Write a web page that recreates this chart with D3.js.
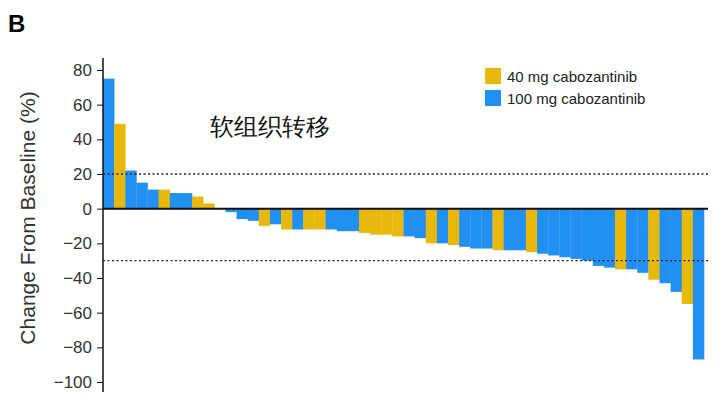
<!DOCTYPE html><html><head><meta charset="utf-8">
<script src="https://cdn.jsdelivr.net/npm/d3@7"></script>
<style>body{margin:0;background:#fff}text{font-family:"Liberation Sans",Arial,sans-serif}</style></head><body>
<svg id="c" width="720" height="402"></svg>
<script>
const values=[75,49,22,15,11,11,9,9,7,3,0.4,-2,-6,-7,-10,-9,-12,-12,-12,-12,-12,-13,-13,-14,-15,-15,-16,-16,-17,-20,-20,-21,-22,-23,-23,-24,-24,-24,-25,-26,-27,-28,-29,-30,-33,-34,-35,-35,-37,-41,-43,-48,-55,-87];
const groupCodes="BYBBBYBBYY"+"BBBB"+"YBYBYY"+"BBB"+"YYYY"+"BB"+"YBY"+"BBB"+"Y"+"BB"+"Y"+"BBBBBBB"+"Y"+"BB"+"Y"+"BB"+"Y"+"B";
const series=["40 mg cabozantinib","100 mg cabozantinib"];
const groups=groupCodes.split("").map(c=>c==="Y"?series[0]:series[1]);
const colors=["#e8b80c","#2190f0"];
const yTicks=[80,60,40,20,0,-20,-40,-60,-80,-100];
const refLines=[20,-30];
const svg=d3.select("#c");
const x=d3.scaleBand().domain(d3.range(values.length)).range([103,704]).padding(0);
const y=d3.scaleLinear().domain([-100,80]).range([382,70]);
const col=d3.scaleOrdinal(series,colors);
svg.append("text").attr("x",8).attr("y",32).attr("font-size",24).attr("font-weight","bold").text("B");
svg.selectAll("rect.b").data(values).join("rect").attr("x",(d,i)=>x(i)).attr("width",x.bandwidth()+0.3)
 .attr("y",d=>y(Math.max(0,d))).attr("height",d=>Math.abs(y(d)-y(0))).attr("fill",(d,i)=>col(groups[i]));
svg.selectAll("line.r").data(refLines).join("line").attr("x1",103).attr("x2",708).attr("y1",d=>y(d)).attr("y2",d=>y(d))
 .attr("stroke","#222").attr("stroke-width",1.3).attr("stroke-dasharray","2,2.5");
svg.append("line").attr("x1",103).attr("x2",708).attr("y1",y(0)).attr("y2",y(0)).attr("stroke","#111").attr("stroke-width",2);
const ax=svg.append("g").attr("transform","translate(103,0)").call(d3.axisLeft(y).tickValues(yTicks).tickSize(6).tickPadding(5));
ax.select(".domain").attr("d","M0,58V392").attr("stroke","#111").attr("stroke-width",1.5);
ax.selectAll(".tick line").attr("stroke","#111");
ax.selectAll("text").attr("font-size",17).attr("fill","#333").attr("font-family","'Liberation Sans',Arial");
svg.append("text").attr("transform","translate(35,218) rotate(-90)").attr("text-anchor","middle").attr("font-size",21).attr("fill","#333").text("Change From Baseline (%)");
svg.append("text").attr("x",210).attr("y",135).attr("font-size",24).attr("font-family","'Noto Sans CJK SC'").attr("fill","#111").text("软组织转移");
const lg=svg.append("g").attr("transform","translate(485,68)");
series.forEach((s,i)=>{lg.append("rect").attr("x",0).attr("y",i*22).attr("width",16).attr("height",16).attr("fill",colors[i]);
lg.append("text").attr("x",22).attr("y",i*22+14).attr("font-size",15).attr("fill","#222").text(s);});
</script></body></html>
